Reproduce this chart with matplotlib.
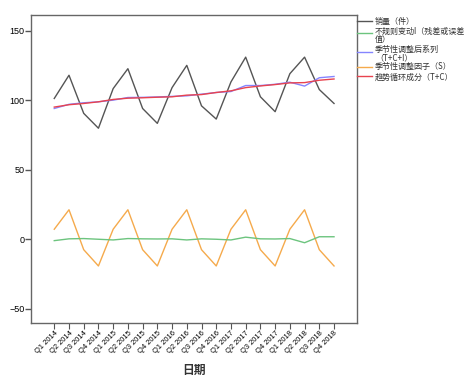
import matplotlib
matplotlib.use("Agg")
import matplotlib.pyplot as plt
from matplotlib.lines import Line2D

plt.rcParams['font.family'] = ['Noto Sans CJK SC', 'DejaVu Sans']

quarters = ["Q1 2014", "Q2 2014", "Q3 2014", "Q4 2014",
            "Q1 2015", "Q2 2015", "Q3 2015", "Q4 2015",
            "Q1 2016", "Q2 2016", "Q3 2016", "Q4 2016",
            "Q1 2017", "Q2 2017", "Q3 2017", "Q4 2017",
            "Q1 2018", "Q2 2018", "Q3 2018", "Q4 2018"]

sales = [101.2, 117.9, 90.5, 79.8, 108.3, 122.6, 94.0, 83.3,
         109.0, 125.0, 95.9, 86.4, 113.1, 130.9, 102.4, 91.7,
         119.0, 130.9, 107.6, 97.6]
irregular = [-1.0, 0.3, 0.5, 0.0, -0.5, 0.5, 0.3, 0.2,
             0.3, -0.5, 0.3, 0.0, -0.5, 1.5, 0.3, 0.2,
             0.5, -2.5, 1.8, 1.8]
seas_adj = [94.0, 97.0, 98.1, 98.8, 100.0, 101.9, 102.0, 102.3,
            102.7, 103.1, 104.3, 105.5, 106.2, 110.5, 110.5, 111.4,
            112.9, 110.1, 116.1, 117.0]
seasonal = [7.2, 21.2, -7.5, -19.2, 7.2, 21.2, -7.5, -19.2,
            7.2, 21.2, -7.5, -19.2, 7.2, 21.2, -7.5, -19.2,
            7.2, 21.2, -7.5, -19.2]
trend = [95.0, 96.7, 97.6, 98.8, 100.5, 101.4, 101.7, 102.1,
         102.4, 103.6, 104.0, 105.5, 106.7, 109.0, 110.2, 111.2,
         112.4, 112.6, 114.3, 115.2]

labels = ["销量（件）", "不规则变动I（残差或误差\n值）", "季节性调整后系列\n（T+C+I）",
          "季节性调整因子（S）", "趋势循环成分（T+C）"]
colors = ["#555555", "#6cc47e", "#8585ff", "#f5aa4c", "#e8434f"]
series = [sales, irregular, seas_adj, seasonal, trend]

W, H = 474, 382
fig = plt.figure(figsize=(W / 100, H / 100), dpi=100)
ax = fig.add_axes([31 / W, 1 - 323 / H, (357 - 31) / W, (323 - 15) / H])

x = list(range(len(quarters)))
order = [3, 1, 0, 4, 2]
for i in order:
    ax.plot(x, series[i], color=colors[i], lw=1.0, zorder=2 + (i == 4))

ax.set_xlim(-1.58, 20.56)
ax.set_ylim(-60.2, 161.2)
ax.set_yticks([-50, 0, 50, 100, 150])
ax.set_xticks(x)
ax.set_xticklabels(quarters, rotation=45, ha='right', rotation_mode='anchor',
                   fontsize=5.4, family=['Liberation Sans', 'DejaVu Sans'])
for lab in ax.get_yticklabels():
    lab.set_family(['Liberation Sans', 'DejaVu Sans'])
ax.tick_params(axis='y', labelsize=6.5, length=4, width=1, color='#555555', pad=0.5)
ax.tick_params(axis='x', length=4, width=0.8, color='#555555', pad=1)
for s in ax.spines.values():
    s.set_color('#666666')
    s.set_linewidth(1.0)
ax.set_xlabel("日期", fontsize=8.5, fontweight='bold', labelpad=6, color='#333333')

# legend drawn at exact positions (handle y, text centre y)
entries = [(20.7, 21.7), (33.3, 35.3), (51.7, 53.6), (66.7, 66.7), (76.0, 77.3)]
for (hy, ty), c, t in zip(entries, colors, labels):
    fig.add_artist(Line2D([357 / W, 372 / W], [1 - hy / H, 1 - hy / H],
                          transform=fig.transFigure, color=c, lw=1.0))
    fig.text(375 / W, 1 - ty / H, t, fontsize=5.8, va='center', ha='left',
             color='#333333', linespacing=0.95)

fig.savefig("out.png", dpi=100)
